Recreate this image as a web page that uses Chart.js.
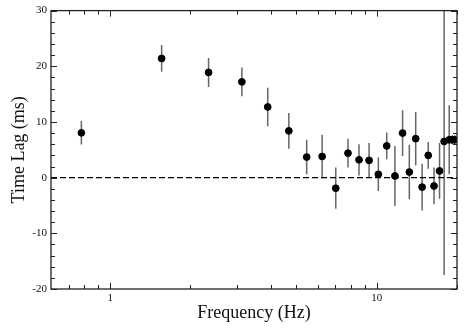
<!DOCTYPE html>
<html>
<head>
<meta charset="utf-8">
<script src="https://cdn.jsdelivr.net/npm/chart.js@4/dist/chart.umd.min.js"></script>
<style>
  html, body { margin: 0; padding: 0; background: #fff; }
  #wrap { width: 474px; height: 333px; }
</style>
</head>
<body>
<div id="wrap"><canvas id="lagChart"></canvas></div>
<script>
// frequency bins (Hz), time lag (ms) and 1-sigma error (ms)
const freq   = [0.78, 1.56, 2.34, 3.12, 3.90, 4.68, 5.46, 6.24, 7.02, 7.80, 8.58, 9.36, 10.14,
                10.9, 11.7, 12.5, 13.25, 14.0, 14.8, 15.6, 16.4, 17.2, 17.9, 18.7, 19.2, 19.6];
const lag    = [8.05, 21.4, 18.9, 17.2, 12.7, 8.4, 3.7, 3.8, -1.9, 4.4, 3.2, 3.1, 0.6,
                5.7, 0.3, 8.0, 1.0, 7.0, -1.7, 4.0, -1.5, 1.2, 6.5, 6.8, 6.8, 6.8];
const lagErr = [2.1, 2.4, 2.6, 2.6, 3.45, 3.2, 3.1, 3.9, 3.7, 2.6, 2.8, 3.1, 3.0,
                2.4, 5.4, 4.1, 4.9, 4.8, 4.2, 2.4, 3.3, 5.0, 24, 6.2, 0.8, 0.8];

// axis ranges and tick marks
const xRange = [0.6, 20];
const yRange = [-20, 30];
const xMajorTicks = [1, 10];
const xMinorTicks = [0.7, 0.8, 0.9, 2, 3, 4, 5, 6, 7, 8, 9, 20];
const yMajorTicks = [-20, -10, 0, 10, 20, 30];
const yMinorTicks = [-18, -16, -14, -12, -8, -6, -4, -2, 2, 4, 6, 8, 12, 14, 16, 18, 22, 24, 26, 28];

const serif = 'Liberation Serif';

// vertical error bars, drawn under the points
const errorBars = {
    id: 'errorBars',
    beforeDatasetsDraw(chart) {
        const { ctx, chartArea, scales: { x, y } } = chart;
        ctx.save();
        ctx.beginPath();
        ctx.rect(chartArea.left, chartArea.top, chartArea.right - chartArea.left, chartArea.bottom - chartArea.top);
        ctx.clip();
        ctx.strokeStyle = '#666';
        ctx.lineWidth = 1.5;
        freq.forEach((f, i) => {
            const px = x.getPixelForValue(f);
            ctx.beginPath();
            ctx.moveTo(px, y.getPixelForValue(lag[i] + lagErr[i]));
            ctx.lineTo(px, y.getPixelForValue(lag[i] - lagErr[i]));
            ctx.stroke();
        });
        ctx.restore();
    }
};

// box frame with inward ticks on all four sides
const frameTicks = {
    id: 'frameTicks',
    afterDraw(chart) {
        const { ctx, chartArea: a, scales: { x, y } } = chart;
        ctx.save();
        ctx.strokeStyle = '#222';
        ctx.lineWidth = 1.3;
        ctx.strokeRect(a.left, a.top, a.right - a.left, a.bottom - a.top);
        ctx.lineWidth = 1;
        const xt = (vals, len) => vals.forEach(v => {
            const px = Math.round(x.getPixelForValue(v)) + 0.5;
            ctx.beginPath();
            ctx.moveTo(px, a.bottom); ctx.lineTo(px, a.bottom - len);
            ctx.moveTo(px, a.top); ctx.lineTo(px, a.top + len);
            ctx.stroke();
        });
        const yt = (vals, len) => vals.forEach(v => {
            const py = Math.round(y.getPixelForValue(v)) + 0.5;
            ctx.beginPath();
            ctx.moveTo(a.left, py); ctx.lineTo(a.left + len, py);
            ctx.moveTo(a.right, py); ctx.lineTo(a.right - len, py);
            ctx.stroke();
        });
        xt(xMajorTicks, 6); xt(xMinorTicks, 4);
        yt(yMajorTicks, 6); yt(yMinorTicks, 4);
        ctx.restore();
    }
};

const ctx = document.getElementById('lagChart').getContext('2d');
new Chart(ctx, {
    type: 'scatter',
    data: {
        datasets: [{
            label: 'Time lag',
            data: freq.map((f, i) => ({ x: f, y: lag[i] })),
            backgroundColor: '#000',
            borderColor: '#000',
            pointRadius: 3.4,
            pointHoverRadius: 3.4,
            order: 1
        }, {
            type: 'line',
            label: 'zero',
            data: [{ x: xRange[0], y: 0 }, { x: xRange[1], y: 0 }],
            borderColor: '#000',
            borderWidth: 1.3,
            borderDash: [6, 3],
            pointRadius: 0,
            fill: false,
            order: 2
        }]
    },
    options: {
        responsive: true,
        maintainAspectRatio: false,
        animation: false,
        layout: { padding: { top: 5, right: 17, left: 0, bottom: 0 } },
        plugins: { legend: { display: false }, tooltip: { enabled: false } },
        scales: {
            x: {
                type: 'logarithmic',
                min: xRange[0],
                max: xRange[1],
                afterBuildTicks: s => { s.ticks = xMajorTicks.map(v => ({ value: v })); },
                afterFit: s => { s.height = 44; },
                grid: { display: false, drawTicks: false },
                border: { display: false },
                ticks: {
                    color: '#111',
                    font: { family: serif, size: 11 },
                    padding: 3,
                    maxRotation: 0,
                    autoSkip: false,
                    callback: v => String(v)
                },
                title: {
                    display: true,
                    text: 'Frequency (Hz)',
                    color: '#111',
                    font: { family: serif, size: 18 },
                    padding: { top: 0, bottom: 9 }
                }
            },
            y: {
                min: yRange[0],
                max: yRange[1],
                afterBuildTicks: s => { s.ticks = yMajorTicks.map(v => ({ value: v })); },
                afterFit: s => { s.width = 51; },
                grid: { display: false, drawTicks: false },
                border: { display: false },
                ticks: {
                    color: '#111',
                    font: { family: serif, size: 11 },
                    padding: 4
                },
                title: {
                    display: true,
                    text: 'Time Lag (ms)',
                    color: '#111',
                    font: { family: serif, size: 18 },
                    padding: { top: 8, bottom: 0 }
                }
            }
        }
    },
    plugins: [errorBars, frameTicks]
});
</script>
</body>
</html>
